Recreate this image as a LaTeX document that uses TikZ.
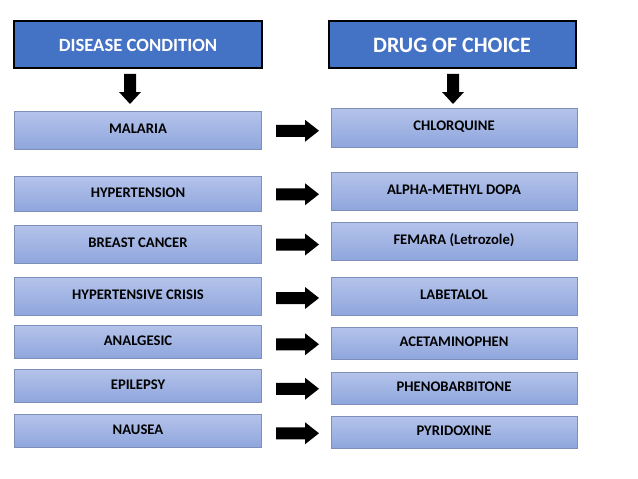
\documentclass[tikz,border=0pt]{standalone}
\usepackage{fontspec}
\setmainfont{Carlito}
\definecolor{hdr}{HTML}{4472C4}
\definecolor{rtop}{HTML}{B4C3EA}
\definecolor{rbot}{HTML}{8FA6DD}
\definecolor{redge}{HTML}{7F8FB8}
\begin{document}
\begin{tikzpicture}[x=0.75pt,y=-0.75pt,
  hd/.style={draw=black,line width=2.2pt,fill=hdr},
  row/.style={draw=redge,line width=0.6pt,top color=rtop,bottom color=rbot},
  rt/.style={font=\bfseries\fontsize{11}{13}\selectfont}]
\path[use as bounding box,fill=white] (0,0) rectangle (638,478);
\path[hd] (14,21) rectangle (262,68);
\node[font=\bfseries\fontsize{14}{16}\selectfont,text=white] (t1) at (138,45) {DISEASE CONDITION};
\path[hd] (329,21) rectangle (576,68);
\node[font=\bfseries\fontsize{16.5}{18}\selectfont,text=white] (t2) at (452,45) {DRUG OF CHOICE};
\foreach \x/\n in {130/d1,453/d2}{
 \coordinate (\n) at (\x,74);
 \fill[shift={(\n)}] (-6,0) -- (6,0) -- (6,18) -- (11,18) -- (0,30) -- (-11,18) -- (-6,18) -- cycle;
}
\foreach \n/\a/\b/\c/\d/\e/\f in {
 1/111/149/MALARIA/108/147/CHLORQUINE,
 2/176/211/HYPERTENSION/172/210/ALPHA-METHYL DOPA,
 3/225/263/BREAST CANCER/222/260/{FEMARA (Letrozole)},
 4/277/315/HYPERTENSIVE CRISIS/277/315/LABETALOL,
 5/325/358/ANALGESIC/327/359/ACETAMINOPHEN,
 6/369/402/EPILEPSY/372/404/PHENOBARBITONE,
 7/414/447/NAUSEA/416/448/PYRIDOXINE}{
 \path[row] (14,\a) rectangle (261,\b);
 \node[rt] (l\n) at (138,{(\a+\b)/2-1}) {\c};
 \path[row] (331,\d) rectangle (577,\e);
 \node[rt] (r\n) at (454,{(\d+\e)/2-1}) {\f};
 \coordinate (a\n) at (276,{(\a+\b+\d+\e)/4+2});
 \fill[shift={(a\n)}] (0,-6) -- (29,-6) -- (29,-11) -- (43,0) -- (29,11) -- (29,6) -- (0,6) -- cycle;
}
\end{tikzpicture}
\end{document}
